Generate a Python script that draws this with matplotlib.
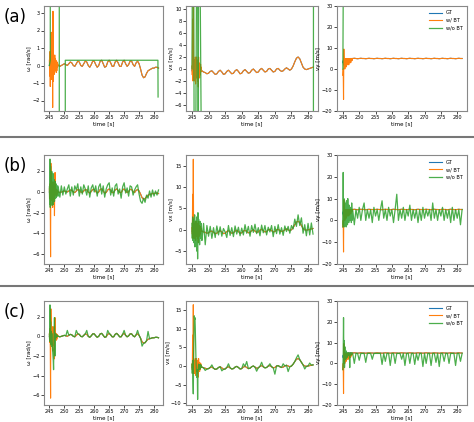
import matplotlib
matplotlib.use("Agg")
import matplotlib.pyplot as plt
from matplotlib.lines import Line2D

W, H = 474, 422
fig = plt.figure(figsize=(W/100, H/100), dpi=100)

# ---------------- data ----------------
T0_MAIN, DT_MAIN = 248.0, 0.5
T0_BURST, DT_BURST = 245.0, 0.1

gt_w_burst = [0,0.1,-0.1,0,0.1,0,-0.1,0,0.1,0,-0.1,0,0.1,0,0,0.1,-0.1,0,0.1,0,0,0,0.1,0,-0.1,0,0.1,0,0,0]
gt_w = [0.0,-0.05,0.0,0.05,0.1,0.05,0.0,0.1,0.2,0.15,0.0,-0.05,0.1,0.25,0.2,0.0,-0.05,0.1,0.25,0.2,
        0.0,-0.1,0.05,0.25,0.25,0.05,-0.1,0.0,0.25,0.3,0.1,-0.1,-0.05,0.2,0.3,0.15,-0.05,-0.05,0.2,0.3,
        0.15,-0.05,-0.05,0.2,0.3,0.1,-0.05,0.05,0.25,0.25,0.05,-0.05,0.15,0.25,0.1,-0.2,-0.55,-0.7,-0.65,-0.45,
        -0.3,-0.25,-0.2,-0.15,-0.15,-0.1,-0.1,-0.15]
gt_vx_burst = [-0.3,-0.2,-0.4,-0.3,-0.2,-0.4,-0.3,-0.3,-0.2,-0.4,-0.3,-0.3,-0.2,-0.4,-0.3,-0.3,-0.2,-0.4,-0.3,-0.3,
               -0.2,-0.4,-0.3,-0.3,-0.2,-0.4,-0.3,-0.3,-0.3,-0.3]
gt_vx = [-0.3,-0.5,-0.6,-0.8,-0.7,-0.4,-0.3,-0.6,-0.9,-0.8,-0.4,-0.2,-0.5,-0.9,-0.8,-0.4,-0.2,-0.5,-0.8,-0.7,
         -0.3,-0.1,-0.4,-0.8,-0.7,-0.3,-0.1,-0.4,-0.7,-0.6,-0.2,0.0,-0.3,-0.6,-0.5,-0.1,0.1,-0.2,-0.5,-0.4,
         0.0,0.1,-0.2,-0.5,-0.4,0.0,0.1,-0.2,-0.4,-0.3,0.0,0.2,0.0,-0.2,0.0,0.5,1.2,1.8,2.0,1.7,
         1.0,0.3,0.0,-0.1,0.0,0.1,0.2,0.3]
gt_vy_burst = [3,4,2,5,3,4,3,5,4,3,4,5,3,4,5,4,3,5,4,5,4,5,4,5,5,4,5,5,5,5]
gt_vy = [5.0,5.1,5.0,4.9,5.0,5.1,5.0,5.0,4.9,5.0,5.1,5.0,5.0,4.9,5.0,5.1,5.0,5.0,4.9,5.0,
         5.1,5.0,5.0,4.9,5.0,5.1,5.0,5.0,4.9,5.0,5.1,5.0,5.0,4.9,5.0,5.1,5.0,5.0,4.9,5.0,
         5.1,5.0,5.0,4.9,5.0,5.1,5.0,5.0,4.9,5.0,5.1,5.0,5.0,4.9,5.0,5.1,5.0,5.0,4.9,5.0,
         5.1,5.0,5.0,4.9,5.0,5.1,5.0,5.0]

wbt_w_burst_a = [0.3,-0.6,0.8,-1.2,0.5,-0.4,1.9,-0.8,0.4,-0.5,0.6,-2.4,3.1,-0.9,0.5,-0.4,0.3,-0.5,0.6,-0.3,
                 0.4,-0.2,0.3,-0.4,0.2,-0.3,0.2,-0.1,0.1,0]
wbt_w_burst_bc = [0.3,-0.6,0.8,-1.2,-6.3,2.8,0.5,-0.8,0.4,-0.5,0.6,-1.5,1.0,-0.9,0.5,-0.4,0.3,-2.3,0.6,1.9,
                  0.4,-0.2,0.3,-0.4,0.2,-0.3,0.2,-0.1,0.1,0]
wbt_vx_burst = [0.5,-1,8.3,-2,16.5,-1.5,1,-2,1.5,-1,2,-2.5,1,-1.5,2,-1,1.5,-2,1,-3,
                2,-1,1,-1.5,0.5,-1,0.8,-0.5,0.3,-0.3]
wbt_vy_burst = [-3,0,-14.5,9.5,2,5,0,4,2,5,1,4,3,5,2,4,3,5,2,4,3,5,3,5,3,4,4,5,4,5]

# row (a) w/o BT: diverging estimates (times, values)
woa_w_t = [245.0,245.3,245.32,248.3,248.32,250.3,250.32,281.3,281.35]
woa_w = [0,0.3,50,50,-50,-50,0.3,0.3,-1.8]
woa_vx_t = [245.0,245.4,245.8,246.7,246.9,247.0,248.3,281.6,281.65]
woa_vx = [0,50,-50,50,-50,50,-50,-50,50]
woa_vy_t = [245.0,245.3,245.35,281.5]
woa_vy = [0,100,100,100]

# row (b) w/o BT
wob_w_burst = [0.5,-1.2,3.2,-1.5,2.5,-1.0,1.5,-0.8,2.0,-1.3,1.0,-0.6,1.8,-1.2,0.8,-0.5,1.2,-0.9,0.7,-0.4,
               1.0,-0.6,0.8,-0.5,0.6,-0.4,0.5,-0.3,0.6,-0.4]
wob_w = [0.4,-0.5,0.6,-0.3,0.5,-0.2,0.3,0.7,-0.4,0.5,-0.3,0.6,0.2,0.8,-0.4,0.5,-0.2,0.7,0.3,-0.3,
         0.6,-0.5,0.4,0.7,0.0,0.6,-0.4,0.5,0.8,-0.2,0.6,-0.5,0.3,0.7,0.9,-0.3,0.4,-0.4,0.6,0.8,
         -0.2,0.3,-0.6,0.5,0.9,-0.1,0.4,-0.4,0.6,0.5,-0.3,0.2,0.5,0.7,-0.2,-0.9,-1.1,-0.6,-1.0,-0.3,
         -0.6,0.1,-0.5,0.2,-0.4,0.1,-0.3,0.2]
wob_vx_burst = [1.5,-2.0,3.0,-2.5,2.0,-3.0,2.5,-1.5,3.5,-4.0,2.0,-3.5,1.5,-2.5,3.0,-5.0,2.0,-6.8,4.0,-3.0,
                2.5,-2.0,1.5,-3.5,2.0,-1.5,1.0,-2.0,1.5,-1.0]
wob_vx = [-2.5,1.5,-3.5,1.0,-1.5,0.8,-2.0,0.5,-1.8,0.9,-1.2,0.7,-1.5,0.3,-0.5,-1.8,1.0,-1.3,0.5,-1.6,
          0.9,-1.0,0.6,-1.4,0.4,-1.2,1.2,-0.8,0.8,-1.5,1.0,-0.6,1.3,-0.9,0.5,-1.4,1.1,-0.7,1.0,-1.2,
          0.6,-0.5,1.0,-1.6,0.8,-0.9,1.2,-1.0,0.5,-1.3,0.9,-0.4,0.8,-0.8,1.0,0.2,2.5,0.8,3.5,1.0,
          2.8,-0.8,1.2,-1.4,1.5,-1.2,1.6,-1.0]
wob_vy_burst = [-3,22,-2,10,-3,6,0,8,-2,5,-3,9,0,6,-2,10,0,5,-1,7,0,5,1,6,0,5,-1,8,0,5]
wob_vy = [5,-2,5,1,6,0,5,8,0,5,1,5,-1,6,2,5,0,5,9,1,5,0,6,2,5,-1,5,12,0,5,1,6,0,5,2,7,0,5,1,5,
          -1,5,0,6,1,5,2,5,0,8,1,5,0,5,2,6,0,5,1,5,-1,6,0,5,1,5,-2,5]

# row (c) w/o BT
woc_w_burst = [0.2,-0.5,3.2,-0.3,1.5,-0.8,0.5,-1.0,0.3,-0.6,-1.0,-1.5,-2.0,-2.5,-3.4,-1.0,0.5,1.9,-0.5,-2.0,
               0.3,-0.2,0.2,-0.1,0.1,0,0.1,0,0,0]
woc_w = [0.0,-0.05,0.0,0.05,0.1,0.05,0.6,0.1,0.2,0.15,0.0,-0.05,0.6,0.25,0.2,0.0,-0.05,0.1,0.25,0.6,
         0.0,-0.1,0.05,0.25,0.25,0.05,-0.1,0.0,0.25,0.3,0.1,-0.1,-0.05,0.6,0.3,0.15,-0.05,-0.05,0.2,0.3,
         0.15,-0.05,-0.05,0.2,0.6,0.1,-0.05,0.05,0.25,0.25,0.05,-0.05,0.15,0.6,0.1,-0.2,-1.0,-0.7,-0.65,-0.45,
         0.5,-0.25,-0.2,-0.15,-0.15,-0.1,-0.1,-0.15]
woc_vx_burst = [0.5,-2.0,1.5,-4.0,-7.5,3.0,8.0,13.5,12.5,13.0,10.0,6.0,2.0,-1.0,-3.0,-2.0,-1.0,-9.0,-2.0,-0.5,
                0.5,-1.0,0.3,-0.5,0.2,-0.8,0.4,-0.3,0.1,-0.3]
woc_vx = [-0.3,-0.5,-1.2,-0.8,-0.7,-0.4,0.3,-0.6,-0.9,-0.8,-0.4,-0.2,-1.3,-0.9,-0.8,-0.4,0.6,-0.5,-0.8,-0.7,
          -0.3,-0.1,-0.4,-0.8,-0.7,0.6,-0.1,1.2,-0.7,-0.6,-0.2,0.0,-0.3,-1.4,-0.5,-0.1,1.0,-0.2,-0.5,-0.4,
          0.0,0.6,-0.2,-0.5,-2.2,0.0,0.1,-0.2,-0.4,0.6,0.0,0.2,-1.5,-0.2,0.0,0.5,1.2,2.2,3.0,1.7,
          1.0,0.3,-0.8,-0.1,0.0,0.8,0.2,0.3]
woc_vy_burst = [-3,4,22,0,11,-2,8,3,5,2,6,3,4,5,3,5,4,5,4,5,4,-2,5,4,5,4,5,5,5,5]
woc_vy = [4.8,0,4.8,4.8,1.5,4.8,4.8,4.8,0.5,4.8,4.8,4.8,2,4.8,4.8,4.8,4.8,4.8,-0.5,4.8,
          1,4.8,4.8,-1,4.8,4.8,0,4.8,4.8,4.8,2,4.8,-1,4.8,4.8,0,4.8,4.8,-0.5,4.8,
          1.5,4.8,4.8,-1.5,4.8,0,4.8,4.8,-1,4.8,4.8,0.5,4.8,-1.5,4.8,4.8,1,4.8,4.8,0,
          4.8,4.8,4.8,-1,4.8,4.8,1,4.8]

row_labels = ["(a)", "(b)", "(c)"]
ylabels = ["ω [rad/s]", "vx [m/s]", "vy [m/s]"]
legend_labels = ["GT", "w/ BT", "w/o BT"]
xticks = [245, 250, 255, 260, 265, 270, 275, 280]

ylims = [[(-2.6, 3.4), (-7, 10.5), (-20, 30)],
         [(-7, 3.6), (-8, 17.5), (-20, 30)],
         [(-7, 3.6), (-10.5, 17.5), (-20, 30)]]
yticks = [[[-2, -1, 0, 1, 2, 3], [-6, -4, -2, 0, 2, 4, 6, 8, 10], [-20, -10, 0, 10, 20, 30]],
          [[-6, -4, -2, 0, 2], [-5, 0, 5, 10, 15], [-20, -10, 0, 10, 20, 30]],
          [[-6, -4, -2, 0, 2], [-10, -5, 0, 5, 10, 15], [-20, -10, 0, 10, 20, 30]]]

# ---------------- helpers ----------------
def times(start, step, vals):
    return [start + step * i for i in range(len(vals))]

def series(burst, main):
    return times(T0_BURST, DT_BURST, burst) + times(T0_MAIN, DT_MAIN, main), list(burst) + list(main)

gt = [series(gt_w_burst, gt_w), series(gt_vx_burst, gt_vx), series(gt_vy_burst, gt_vy)]
wbt = [[series(wbt_w_burst_a, gt_w), series(wbt_vx_burst, gt_vx), series(wbt_vy_burst, gt_vy)],
       [series(wbt_w_burst_bc, gt_w), series(wbt_vx_burst, gt_vx), series(wbt_vy_burst, gt_vy)],
       [series(wbt_w_burst_bc, gt_w), series(wbt_vx_burst, gt_vx), series(wbt_vy_burst, gt_vy)]]
wo = [[(woa_w_t, woa_w), (woa_vx_t, woa_vx), (woa_vy_t, woa_vy)],
      [series(wob_w_burst, wob_w), series(wob_vx_burst, wob_vx), series(wob_vy_burst, wob_vy)],
      [series(woc_w_burst, woc_w), series(woc_vx_burst, woc_vx), series(woc_vy_burst, woc_vy)]]

col_px = [(44, 163), (186, 318), (337, 467)]
row_px = [(6, 111), (155, 264), (301, 405)]

def ax_at(x0, x1, y0, y1):
    return fig.add_axes([x0 / W, 1 - y1 / H, (x1 - x0) / W, (y1 - y0) / H])

for r in range(3):
    for c in range(3):
        ax = ax_at(col_px[c][0], col_px[c][1], row_px[r][0], row_px[r][1])
        ax.plot(*gt[c], color="tab:blue", lw=0.8, label=legend_labels[0])
        ax.plot(*wbt[r][c], color="tab:orange", lw=0.8, label=legend_labels[1])
        ax.plot(*wo[r][c], color="tab:green", lw=0.9, alpha=0.85, label=legend_labels[2])
        ax.set_xlim(243.2, 283.0)
        ax.set_ylim(*ylims[r][c])
        ax.set_xticks(xticks)
        ax.set_yticks(yticks[r][c])
        ax.tick_params(labelsize=3.6, length=2, width=0.5, pad=1.2)
        ax.set_xlabel("time [s]", fontsize=4, labelpad=0.5)
        ax.set_ylabel(ylabels[c], fontsize=4, labelpad=0.5)
        for s in ax.spines.values():
            s.set_color("#888888")
            s.set_linewidth(0.8)
        if c == 2:
            ax.legend(loc="upper right", fontsize=3.6, frameon=False, handlelength=2.5)
    fig.text(4 / W, 1 - (row_px[r][0] + 11) / H, row_labels[r], fontsize=12, va="center", ha="left")

for yp in (137, 286):
    fig.add_artist(Line2D([0, 1], [1 - yp / H, 1 - yp / H], color="#777777", lw=1.5))

fig.savefig("out.png", dpi=100)
